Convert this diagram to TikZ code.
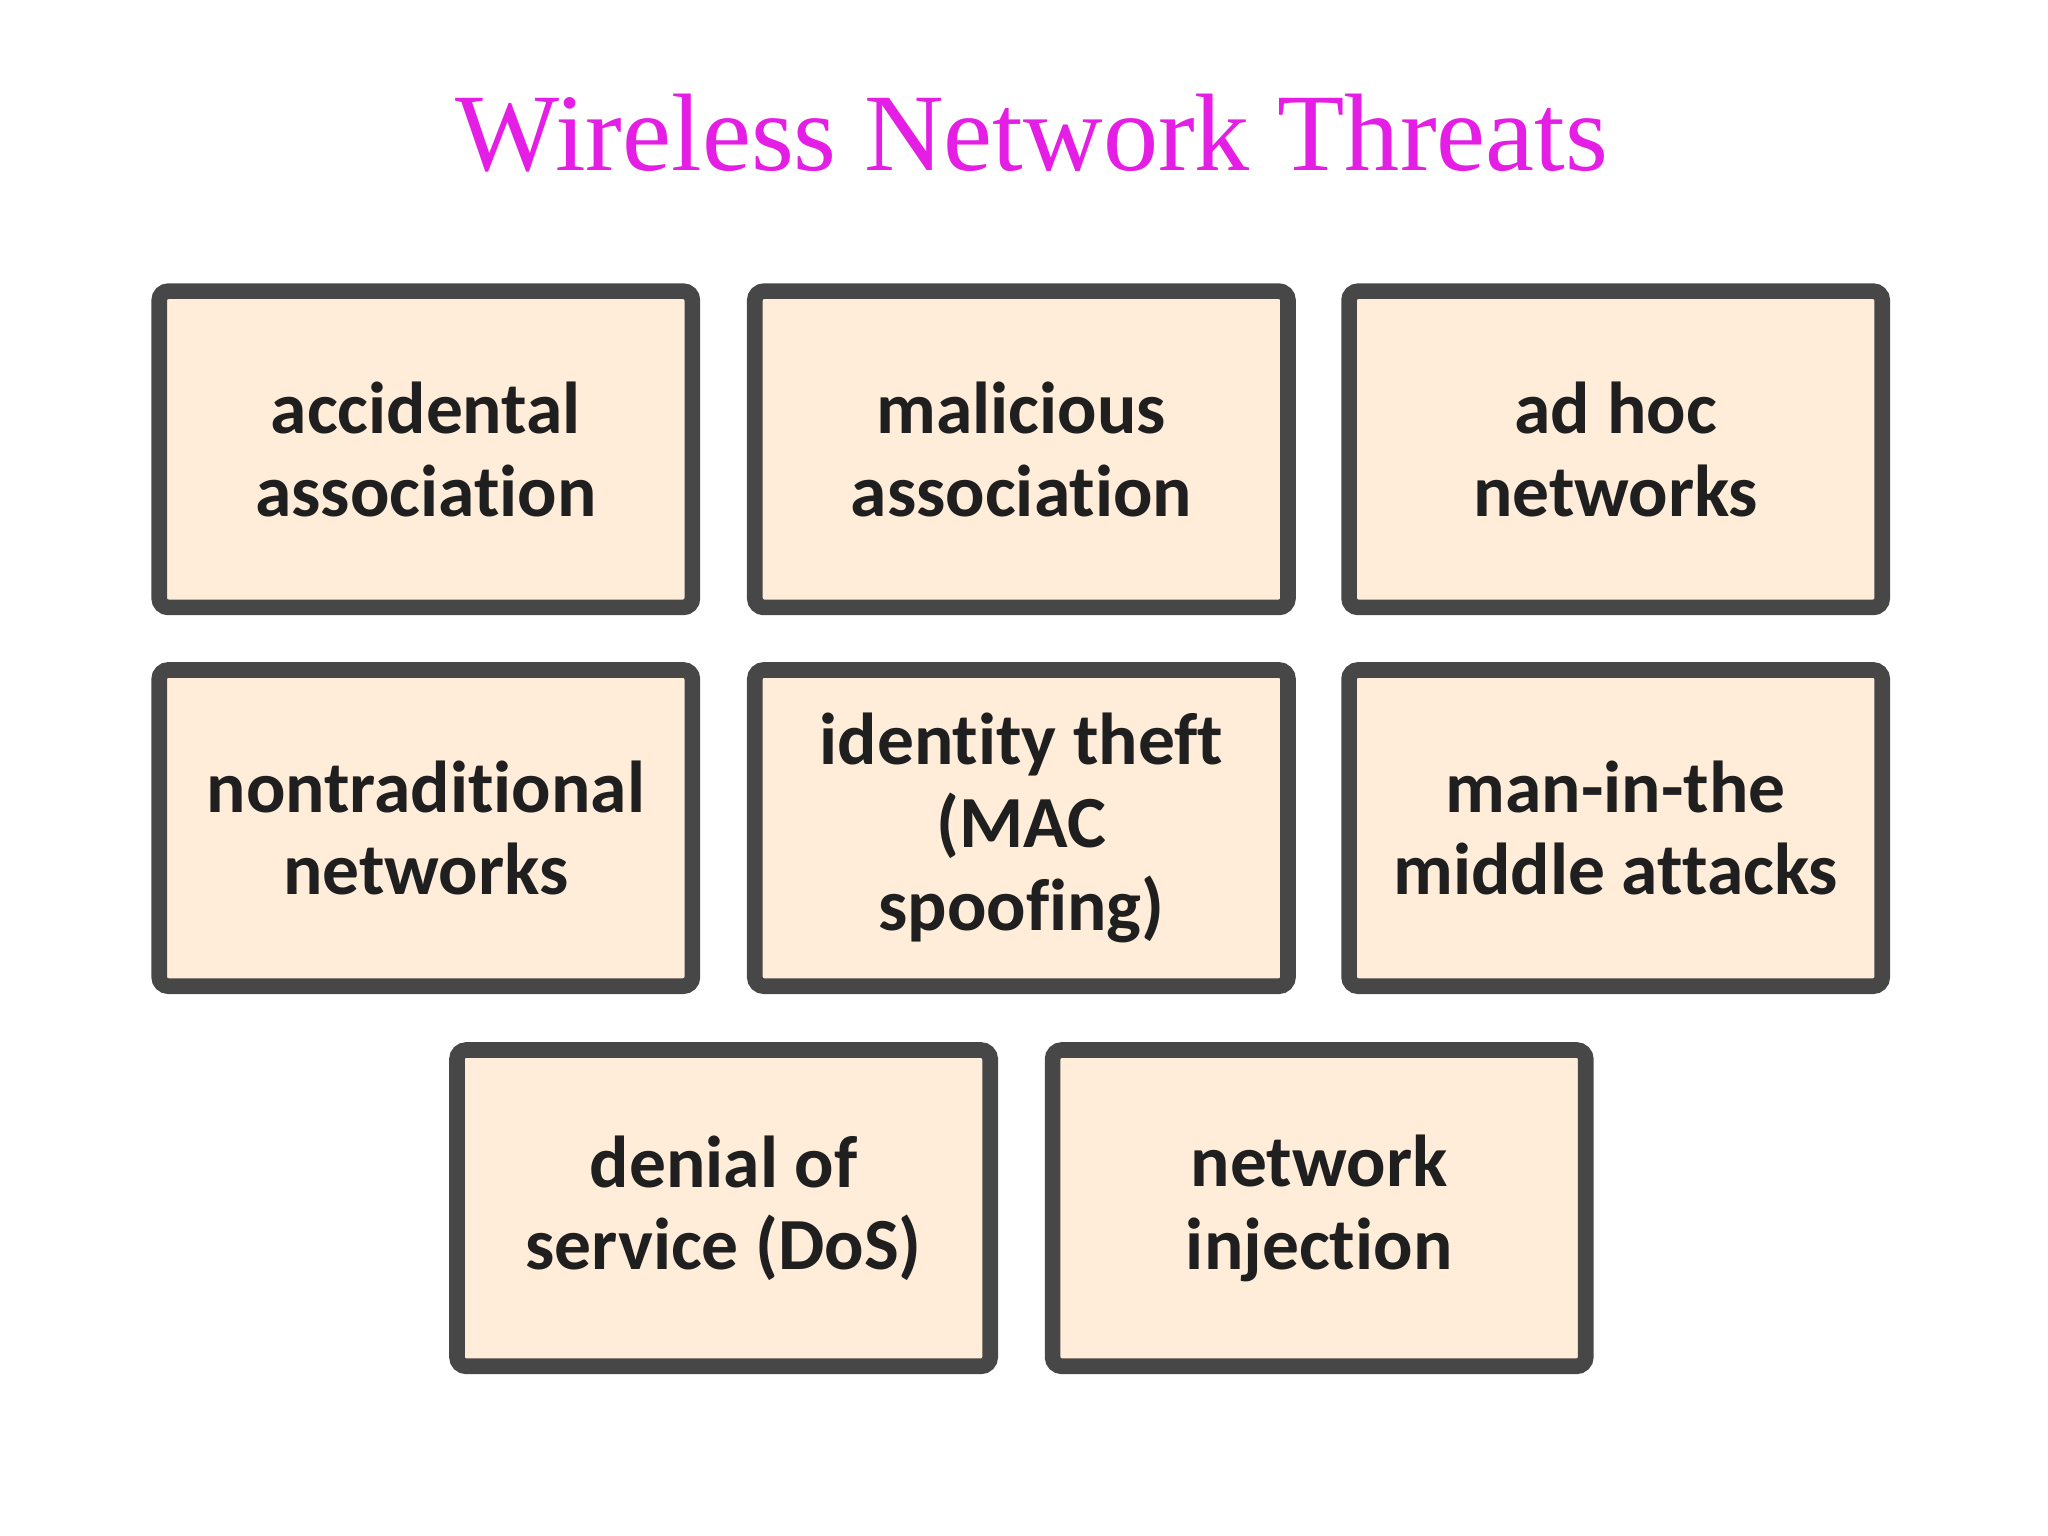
\documentclass[tikz,border=0pt]{standalone}
\usepackage{fontspec}
\setmainfont{Liberation Serif}
\newfontfamily\boxfont[Ligatures={NoCommon}]{Carlito}
\definecolor{titlecol}{RGB}{228,30,228}
\begin{document}
\begin{tikzpicture}[x=0.01cm,y=-0.01cm,
  threat/.style={draw=black!72,line width=3.4pt,fill=orange!15!white,rounded corners=2pt,
    minimum width=4.08cm,minimum height=2.42cm,align=center,
    font=\boxfont\bfseries\fontsize{16}{18}\selectfont,text=black!88,inner sep=0pt}]
\useasboundingbox (0,0) rectangle (1568,1176);
\node[text=titlecol,font=\fontsize{24}{28}\selectfont] (title) at (790,102) {Wireless Network Threats};
\node[threat] (a) at (326,344) {accidental\\association};
\node[threat] (b) at (782,344) {malicious\\association};
\node[threat] (c) at (1237,344) {ad hoc\\networks};
\node[threat] (d) at (326,634) {nontraditional\\networks};
\node[threat] (e) at (782,634) {identity theft\\(MAC\\spoofing)};
\node[threat] (f) at (1237,634) {man-in-the\\middle attacks};
\node[threat] (g) at (554,925) {denial of\\service (DoS)};
\node[threat] (h) at (1010,925) {network\\injection};
\end{tikzpicture}
\end{document}
